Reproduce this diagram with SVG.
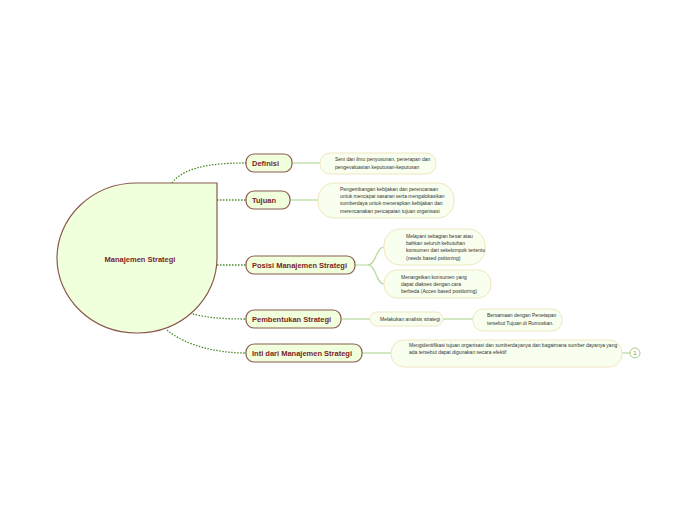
<svg xmlns="http://www.w3.org/2000/svg" width="697" height="520" viewBox="0 0 697 520">
<style>
.main{fill:#f0ffdc;stroke:#8a5a50;stroke-width:1.2}
.leaf{fill:#f8ffee;stroke:#f0e6c0;stroke-width:1}
.mt{font-family:"Liberation Sans",sans-serif;font-weight:bold;font-size:7.5px;fill:#7a1f1f}
.lt{font-family:"Liberation Sans",sans-serif;font-size:5px;fill:#333}
.dot{fill:none;stroke:#4a8a2a;stroke-width:1.3;stroke-dasharray:1.5 1.5}
.sol{fill:none;stroke:#b5d99a;stroke-width:1.2}
</style>
<rect width="697" height="520" fill="#fff"/>
<g id="connectors">
<path class="dot" d="M172 183 C185 165 220 163 246 163"/>
<path class="dot" d="M205 200 L246 200"/>
<path class="dot" d="M217 265 L246 265"/>
<path class="dot" d="M190 313 C205 318 225 319 246 319"/>
<path class="dot" d="M167 330 C185 345 215 353 246 353"/>
<path class="sol" d="M292 163 L320 163"/>
<path class="sol" d="M290 200 L318 200"/>
<path class="sol" d="M355 265 L368 265 C376 265 376 247 384 247"/>
<path class="sol" d="M368 265 C376 265 376 284 384 284"/>
<path class="sol" d="M341 319 L370 319"/>
<path class="sol" d="M443 319 L473 319"/>
<path class="sol" d="M362 353 L391 353"/>
<path class="sol" d="M622 353 L630 353"/>
</g>
<g id="center">
<path class="main" d="M217 183 L217 258 A80 75 0 1 1 137 183 Z"/>
<text class="mt" x="140" y="262" text-anchor="middle" font-size="10">Manajemen Strategi</text>
</g>
<g id="definisi"><rect class="main" x="246" y="154" width="46" height="18" rx="8"/><text class="mt" x="252" y="166">Definisi</text></g>
<g id="tujuan"><rect class="main" x="246" y="191" width="44" height="18" rx="8"/><text class="mt" x="252" y="203">Tujuan</text></g>
<g id="posisi"><rect class="main" x="246" y="256" width="109" height="18" rx="8"/><text class="mt" x="252" y="268">Posisi Manajemen Strategi</text></g>
<g id="pembentukan"><rect class="main" x="246" y="310" width="95" height="18" rx="8"/><text class="mt" x="252" y="322">Pembentukan Strategi</text></g>
<g id="inti"><rect class="main" x="246" y="344" width="116" height="18" rx="8"/><text class="mt" x="252" y="356">Inti dari Manajemen Strategi</text></g>
<g id="leaf-definisi"><rect class="leaf" x="320" y="153" width="116" height="21" rx="10"/><text class="lt"><tspan x="335" y="161">Seni dan ilmu penyusunan, penerapan dan</tspan><tspan x="335" y="169">pengevaluasian keputusan-keputusan</tspan></text></g>
<g id="leaf-tujuan"><rect class="leaf" x="318" y="183" width="136" height="35" rx="16"/><text class="lt"><tspan x="340" y="191">Pengembangan kebijakan dan perencanaan</tspan><tspan x="340" y="198">untuk mencapai sasaran serta mengalokasikan</tspan><tspan x="340" y="205">sumberdaya untuk menerapkan kebijakan dan</tspan><tspan x="340" y="213">merencanakan pencapaian tujuan organisasi</tspan></text></g>
<g id="leaf-posisi1"><rect class="leaf" x="384" y="229" width="101" height="36" rx="16"/><text class="lt"><tspan x="406" y="238">Melayani sebagian besar atau</tspan><tspan x="406" y="245">bahkan seluruh kebutuhan</tspan><tspan x="406" y="252">konsumen dari sekelompok tertentu</tspan><tspan x="406" y="260">(needs based psitioning)</tspan></text></g>
<g id="leaf-posisi2"><rect class="leaf" x="384" y="270" width="107" height="28" rx="13"/><text class="lt"><tspan x="401" y="279">Menargetkan konsumen yang</tspan><tspan x="401" y="286">dapat diakses dengan cara</tspan><tspan x="401" y="293">berbeda (Acces based positioring)</tspan></text></g>
<g id="leaf-pemb1"><rect class="leaf" x="370" y="312" width="73" height="14" rx="7"/><text class="lt" x="380" y="321">Melakukan analisis strategi</text></g>
<g id="leaf-pemb2"><rect class="leaf" x="473" y="309" width="89" height="22" rx="10"/><text class="lt"><tspan x="487" y="317">Bersamaan dengan Penetapan</tspan><tspan x="487" y="325">tersebut Tujuan di Rumuskan.</tspan></text></g>
<g id="leaf-inti"><rect class="leaf" x="391" y="340" width="231" height="27" rx="13"/><text class="lt"><tspan x="409" y="347">Mengidentifikasi tujuan organisasi dan sumberdayanya dan bagaimana sumber dayanya yang</tspan><tspan x="409" y="354">ada tersebut dapat digunakan secara efektif</tspan></text></g>
<g id="counter"><circle cx="635" cy="353" r="5" fill="#fff" stroke="#a5d08a" stroke-width="1"/><text x="635" y="355" text-anchor="middle" font-family="Liberation Sans,sans-serif" font-size="6" fill="#6a9a4a">1</text></g>
</svg>
